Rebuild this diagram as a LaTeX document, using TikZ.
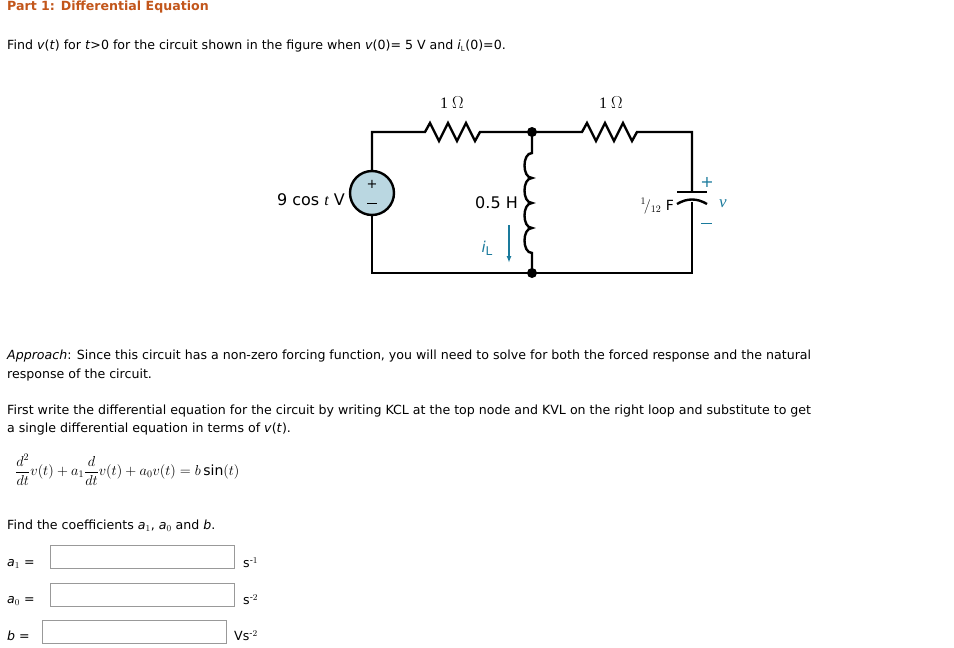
\documentclass[tikz,border=0pt]{standalone}
\usepackage{amsmath}
\usepackage{fontspec}
\setmainfont{DejaVu Sans}
\newfontfamily\serifm{Liberation Serif}
\usetikzlibrary{arrows.meta}
\begin{document}
\begin{tikzpicture}[x=1pt,y=-1pt,
  wire/.style={line width=2.4pt,line join=miter},
  txt/.style={anchor=west,inner sep=0pt,font=\fontsize{12.6}{15}\selectfont},
  cl/.style={inner sep=0pt,font=\fontsize{16}{18}\selectfont},
  ibox/.style={draw=black!40,line width=0.8pt}]
\useasboundingbox (0,0) rectangle (954,648);
\definecolor{hd}{HTML}{C2561B}
\definecolor{tl}{HTML}{1A7A9C}
\node[txt,text=hd,font=\bfseries\fontsize{12.6}{15}\selectfont] (t1) at (7,7) {Part 1: Differential Equation};
\node[txt] (t2) at (7,46) {Find \textit{v}(\textit{t}) for \textit{t}>0 for the circuit shown in the figure when \textit{v}(0)= 5 V and \textit{i}$_{\textrm{\scriptsize L}}$(0)=0.};
\node[txt] (t3) at (7,356) {\textit{Approach}: Since this circuit has a non-zero forcing function, you will need to solve for both the forced response and the natural};
\node[txt] (t4) at (7,375) {response of the circuit.};
\node[txt] (t5) at (7,411) {First write the differential equation for the circuit by writing KCL at the top node and KVL on the right loop and substitute to get};
\node[txt] (t6) at (7,429) {a single differential equation in terms of \textit{v}(\textit{t}).};
\node[anchor=west,inner sep=0pt,font=\fontsize{14}{16}\selectfont] (eq) at (15,470) {$\dfrac{d^2}{dt}v(t)+a_1\dfrac{d}{dt}v(t)+a_0v(t)=b\sin(t)$};
\node[txt] (t7) at (7,526) {Find the coefficients \textit{a}$_1$, \textit{a}$_0$ and \textit{b}.};
\node[txt] (l1) at (7,564) {\textit{a}$_1$ =};
\node[txt] (l2) at (7,601) {\textit{a}$_0$ =};
\node[txt] (l3) at (7,636) {\textit{b} =};
\draw[ibox] (50,545) rectangle (234,568);
\draw[ibox] (50,583) rectangle (234,606);
\draw[ibox] (42,620) rectangle (226,643);
\node[txt] (u1) at (243,563) {s$^{\text{-}1}$};
\node[txt] (u2) at (243,600) {s$^{\text{-}2}$};
\node[txt] (u3) at (234,636) {Vs$^{\text{-}2}$};
% circuit
\coordinate (tl) at (372,132); \coordinate (tm) at (532,132); \coordinate (tr) at (692,132);
\coordinate (bl) at (372,273); \coordinate (bm) at (532,273); \coordinate (br) at (692,273);
\draw[wire] (372,171) -- (tl) -- (425,132) -- (430,123) -- (439,141) -- (448,123) -- (457,141) -- (466,123) -- (475,141) -- (480,132) -- (tm)
  -- (582,132) -- (587,123) -- (596,141) -- (605,123) -- (614,141) -- (623,123) -- (632,141) -- (637,132) -- (tr) -- (692,192);
\draw[wire] (372,215) -- (bl) -- (br) -- (692,202);
\draw[wire] (tm) -- (532,153) .. controls (522,153) and (522,178) .. (532,178) .. controls (522,178) and (522,203) .. (532,203)
  .. controls (522,203) and (522,228) .. (532,228) .. controls (522,228) and (522,253) .. (532,253) -- (bm);
\draw[line width=2.4pt] (677,192) -- (707,192);
\draw[line width=2.4pt] (677,204) .. controls (687,198) and (697,198) .. (707,204);
\fill (tm) circle (5); \fill (bm) circle (5);
\node[circle,draw,line width=2.4pt,fill=tl!30,minimum size=44pt,inner sep=0pt] (src) at (372,193) {};
\node[font=\fontsize{13}{13}\selectfont] (sp) at (372,184) {+};
\draw[line width=1pt] (367,203) -- (377,203);
\node[cl,anchor=east] (vs) at (345,200) {9 cos {\serifm\itshape t} V};
\node[cl] (r1) at (452,103) {\serifm 1 $\Omega$};
\node[cl] (r2) at (611,103) {\serifm 1 $\Omega$};
\node[cl,anchor=east] (lh) at (518,203) {0.5 H};
\node[cl,anchor=east,font=\fontsize{14}{16}\selectfont] (cf) at (674,206) {$^1\!/_{12}$ F};
\node[text=tl,font=\fontsize{16}{16}\selectfont] (cp) at (707,182) {+};
\draw[tl,line width=1pt] (701,223) -- (712,223);
\node[text=tl,font=\fontsize{17}{17}\selectfont] (cv) at (723,204) {\serifm\itshape v};
\node[text=tl,font=\fontsize{15}{15}\selectfont] (il) at (487,248) {\textit{i}\raisebox{-3pt}{\fontsize{12}{12}\selectfont L}};
\coordinate (a1) at (509,225); \coordinate (a2) at (509,263);
\draw[tl,line width=2pt,-{Latex[length=7pt,width=5pt]}] (a1) -- (a2);
\end{tikzpicture}
\end{document}
